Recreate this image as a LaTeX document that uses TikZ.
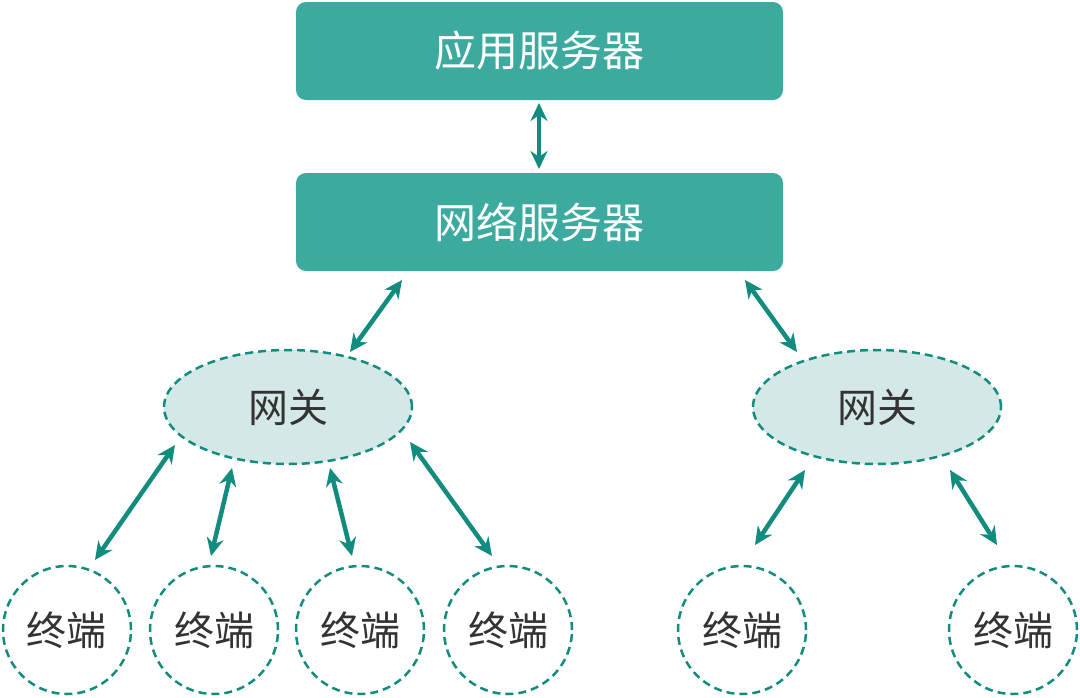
\documentclass[tikz,border=0pt]{standalone}
\usepackage{fontspec}
\newfontfamily\cjk{Noto Sans CJK SC}
\usetikzlibrary{shapes.geometric,arrows.meta}
\definecolor{srv}{HTML}{3DAA9F}
\definecolor{ln}{HTML}{128C7E}
\definecolor{gwfill}{HTML}{D5E8E8}
\definecolor{txt}{HTML}{333333}
\begin{document}
\begin{tikzpicture}[x=1pt,y=-1pt,
  server/.style={fill=srv,rounded corners=10pt,minimum width=487pt,minimum height=98pt,text=white,font=\cjk\fontsize{42}{46}\selectfont,inner sep=0pt},
  gw/.style={ellipse,draw=ln,dash pattern=on 8pt off 5pt,line width=2.5pt,fill=gwfill,minimum width=248pt,minimum height=114pt,text=txt,font=\cjk\fontsize{40}{44}\selectfont,inner sep=0pt},
  term/.style={circle,draw=ln,dash pattern=on 8pt off 5pt,line width=2.5pt,minimum size=128pt,text=txt,font=\cjk\fontsize{40}{44}\selectfont,inner sep=0pt},
  link/.style={{Stealth[length=18pt,width=17pt]}-{Stealth[length=18pt,width=17pt]},line width=4.5pt,draw=ln}]
\useasboundingbox (0,0) rectangle (1080,697);
\node[server] (app) at (539.5,51) {应用服务器};
\node[server] (net) at (539.5,222) {网络服务器};
\node[gw] (g1) at (288,407) {网关};
\node[gw] (g2) at (877,407) {网关};
\foreach \n/\x in {t1/67,t2/214,t3/360,t4/508,t5/742,t6/1013}
  \node[term] (\n) at (\x,630) {终端};
\coordinate (a1) at (539,103); \coordinate (a2) at (539,169);
\draw[link] (a1) -- (a2);
\coordinate (b1) at (402,280); \coordinate (b2) at (350,352);
\draw[link] (b1) -- (b2);
\coordinate (c1) at (745,280); \coordinate (c2) at (797,352);
\draw[link] (c1) -- (c2);
\coordinate (d1) at (175,445); \coordinate (d2) at (95,560);
\draw[link] (d1) -- (d2);
\coordinate (e1) at (232,468); \coordinate (e2) at (211,556);
\draw[link] (e1) -- (e2);
\coordinate (f1) at (330,468); \coordinate (f2) at (352,556);
\draw[link] (f1) -- (f2);
\coordinate (h1) at (410,442); \coordinate (h2) at (492,556);
\draw[link] (h1) -- (h2);
\coordinate (i1) at (805,470); \coordinate (i2) at (755,545);
\draw[link] (i1) -- (i2);
\coordinate (j1) at (950,470); \coordinate (j2) at (997,545);
\draw[link] (j1) -- (j2);
\end{tikzpicture}
\end{document}
